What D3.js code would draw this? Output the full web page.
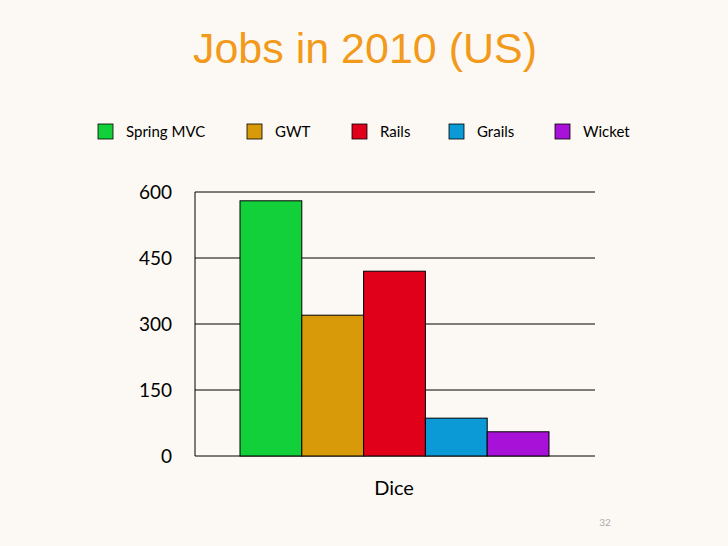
<!DOCTYPE html>
<html><head><meta charset="utf-8">
<script src="https://cdn.jsdelivr.net/npm/d3@7"></script>
<style>body{margin:0;background:#fcf9f4;}svg{display:block}</style>
</head><body>
<script>
const categories = ["Dice"];
const series = ["Spring MVC","GWT","Rails","Grails","Wicket"];
const values = [580, 320, 420, 86, 55];
const colors = ["#12d03a","#d99a0a","#e0001a","#0b9ad6","#a812d8"];
const ticks = [0,150,300,450,600];

const svg = d3.select("body").append("svg").attr("width",728).attr("height",546);
svg.append("rect").attr("width",728).attr("height",546).attr("fill","#fcf9f4");
svg.append("text").attr("x",365).attr("y",63).attr("text-anchor","middle")
  .attr("font-family","Liberation Sans, Arial").attr("font-size",43).attr("fill","#f29a1c")
  .text("Jobs in 2010 (US)");

const y = d3.scaleLinear().domain([0,600]).range([456,192]);
const x0 = d3.scaleBand().domain(categories).range([195,595]);
const x1 = d3.scaleBand().domain(series).range([240,549]);

const g = svg.append("g");
g.selectAll("line.grid").data(ticks).join("line")
  .attr("x1",195).attr("x2",595).attr("y1",d=>y(d)).attr("y2",d=>y(d))
  .attr("stroke","#000").attr("stroke-width",1);
g.append("line").attr("x1",195).attr("x2",195).attr("y1",192).attr("y2",456).attr("stroke","#000");
g.selectAll("text.tick").data(ticks).join("text")
  .attr("x",172).attr("y",d=>y(d)+7).attr("text-anchor","end")
  .attr("font-family","Lato, sans-serif").attr("font-size",19).attr("fill","#000").text(d=>d);

g.selectAll("rect.bar").data(values).join("rect")
  .attr("x",(d,i)=>x1(series[i])).attr("width",x1.bandwidth())
  .attr("y",d=>y(d)).attr("height",d=>y(0)-y(d))
  .attr("fill",(d,i)=>colors[i]).attr("stroke","#000").attr("stroke-width",1);

g.selectAll("text.cat").data(categories).join("text")
  .attr("x",d=>x0(d)+x0.bandwidth()/2-1).attr("y",495).attr("text-anchor","middle")
  .attr("font-family","Lato, sans-serif").attr("font-size",20).text(d=>d);

const lx = [98,247,352,449,555];
const lg = svg.selectAll("g.leg").data(series).join("g")
  .attr("transform",(d,i)=>`translate(${lx[i]},124)`);
lg.append("rect").attr("width",15).attr("height",15).attr("fill",(d,i)=>colors[i]).attr("stroke","#000").attr("stroke-width",0.8);
lg.append("text").attr("x",28).attr("y",13).attr("font-family","Lato, sans-serif").attr("font-size",15).text(d=>d);

svg.append("text").attr("x",605).attr("y",526).attr("text-anchor","middle")
  .attr("font-family","Lato, sans-serif").attr("font-size",10).attr("fill","#aaa").text("32");
</script>
</body></html>
